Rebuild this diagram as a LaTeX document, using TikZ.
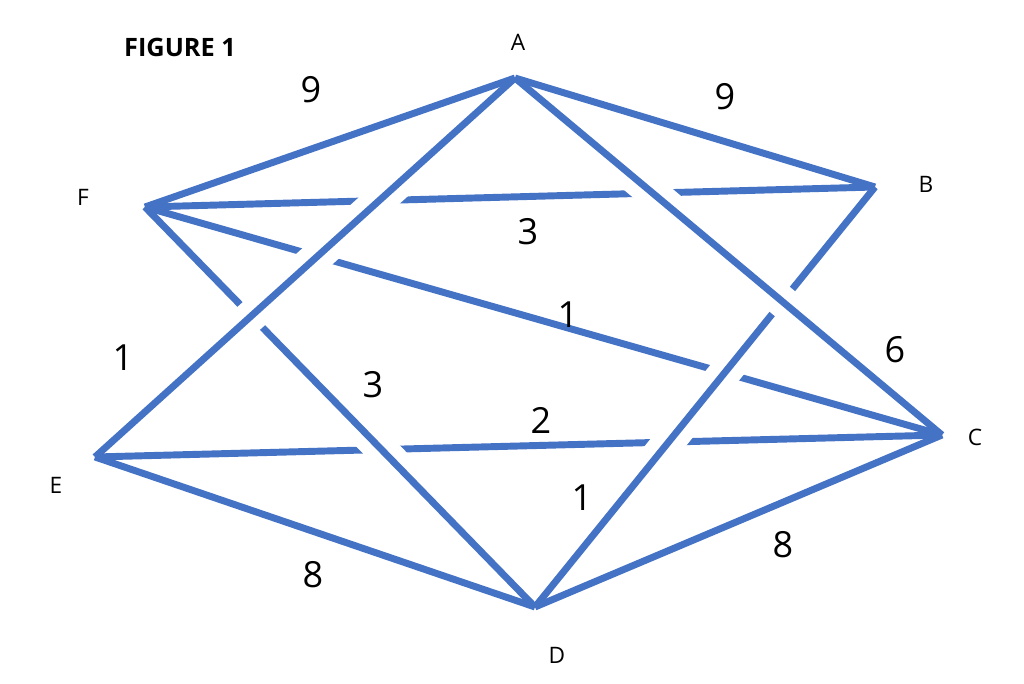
\documentclass[tikz,border=0pt]{standalone}
\usepackage{fontspec}
\setmainfont{Open Sans}
\begin{document}
\begin{tikzpicture}[x=0.75pt,y=-0.75pt,
  edge/.style={line width=5.2pt,draw={rgb,255:red,68;green,114;blue,196},line cap=butt},
  over/.style={edge,preaction={draw=white,line width=24pt,shorten >=45pt,shorten <=45pt}},
  vlab/.style={font=\fontsize{17}{17}\selectfont},
  wlab/.style={font=\fontsize{27}{27}\selectfont}]
\useasboundingbox[fill=white] (0,0) rectangle (1024,684);
\coordinate (A) at (515,78);
\coordinate (B) at (875,187);
\coordinate (C) at (942,435);
\coordinate (D) at (535,607);
\coordinate (E) at (95,457);
\coordinate (F) at (145,207);
\draw[edge] (E) -- (C);
\draw[edge] (F) -- (C);
\draw[over] (F) -- (D);
\draw[over] (B) -- (D);
\draw[edge] (F) -- (B);
\draw[over] (A) -- (C);
\draw[over] (A) -- (E);
\draw[edge] (A) -- (F);
\draw[edge] (A) -- (B);
\draw[edge] (E) -- (D);
\draw[edge] (D) -- (C);
\node[font=\bfseries\fontsize{19}{19}\selectfont] (title) at (180,47) {FIGURE 1};
\node[vlab] (la) at (518,42) {A};
\node[vlab] (lb) at (926,184) {B};
\node[vlab] (lc) at (975,437) {C};
\node[vlab] (ld) at (557,655) {D};
\node[vlab] (le) at (56,485) {E};
\node[vlab] (lf) at (83,197) {F};
\node[wlab] (w1) at (311,90) {9};
\node[wlab] (w2) at (725,97) {9};
\node[wlab] (w3) at (528,232) {3};
\node[wlab] (w4) at (568,315) {1};
\node[wlab] (w5) at (895,350) {6};
\node[wlab] (w6) at (123,358) {1};
\node[wlab] (w7) at (373,385) {3};
\node[wlab] (w8) at (541,420) {2};
\node[wlab] (w9) at (582,498) {1};
\node[wlab] (w10) at (313,575) {8};
\node[wlab] (w11) at (783,545) {8};
\end{tikzpicture}
\end{document}
